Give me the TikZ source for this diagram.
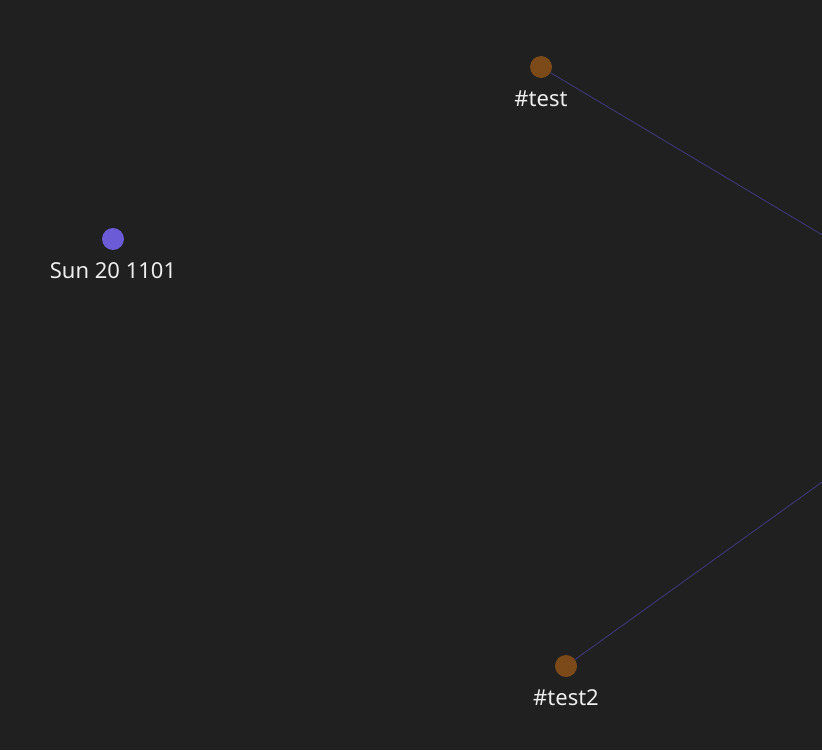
\documentclass[tikz,border=0pt]{standalone}
\usepackage{fontspec}
\setmainfont{Noto Sans}
\usetikzlibrary{positioning}
\definecolor{bg}{HTML}{202020}
\definecolor{tagnode}{HTML}{7B4A18}
\definecolor{filenode}{HTML}{6B5BD6}
\definecolor{edge}{HTML}{40397F}
\definecolor{label_text}{HTML}{EDEDED}

\begin{document}
\begin{tikzpicture}[x=1pt, y=-1pt,
    tagdot/.style={shape=circle, fill=tagnode, minimum size=22pt, inner sep=0pt},
    filedot/.style={shape=circle, fill=filenode, minimum size=22pt, inner sep=0pt},
    dotlabel/.style={text=label_text, font=\fontsize{22}{26}\selectfont, inner sep=0pt},
    link/.style={draw=edge, line width=0.8pt}
]
% Background
\fill[bg] (0,0) rectangle (822,750);
\useasboundingbox (0,0) rectangle (822,750);
\clip (0,0) rectangle (822,750);

% Coordinates
\coordinate (hub) at (1010,347);

% Dots
\node[tagdot] (test) at (541,67) {};
\node[dotlabel, below=12.5pt of test] (test_label) {\#test};

\node[filedot] (sun) at (113,239) {};
\node[dotlabel, below=12.5pt of sun] (sun_label) {Sun 20 1101};

\node[tagdot] (test2) at (566,666) {};
\node[dotlabel, below=12.5pt of test2] (test2_label) {\#test2};

% Links
\draw[link] (test) -- (hub);
\draw[link] (test2) -- (hub);

\end{tikzpicture}
\end{document}
